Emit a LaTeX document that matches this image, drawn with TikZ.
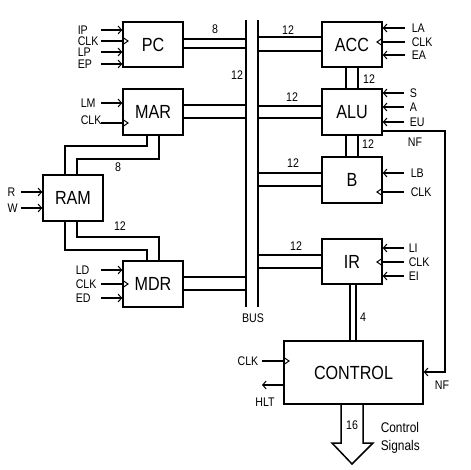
\documentclass[tikz,border=0pt]{standalone}
\usepackage{fontspec}
\setmainfont[FakeStretch=0.85]{Liberation Sans}
\usetikzlibrary{arrows.meta,calc}
\begin{document}
\begin{tikzpicture}[x=1pt,y=-1pt,
  line width=1.5pt,
  blk/.style={draw, line width=1.6pt, minimum width=60pt, minimum height=45pt, inner sep=0pt, font=\fontsize{19}{19}\selectfont},
  lbl/.style={inner sep=0pt, font=\fontsize{12.5}{12.5}\selectfont},
  inarr/.style={-{Straight Barb[length=3.5pt,width=8pt,line width=1pt]}, line width=1.5pt},
  wire/.style={line width=1.5pt},
  clk/.style={line width=1pt},
]
\useasboundingbox (0,0) rectangle (471,470);

% blocks
\node[blk] (pc)  at (153,44.5) {PC};
\node[blk, minimum height=46pt] (mar) at (153,112) {MAR};
\node[blk, minimum height=46pt] (ram) at (73,198) {RAM};
\node[blk, minimum height=46pt] (mdr) at (153,284) {MDR};
\node[blk] (acc) at (352,44.5) {ACC};
\node[blk, minimum height=46pt] (alu) at (352,112) {ALU};
\node[blk, minimum height=46pt] (b)   at (352,180) {B};
\node[blk] (ir)  at (352,261.5) {IR};
\node[blk, minimum width=139pt, minimum height=63pt] (ctl) at (353.5,372.5) {CONTROL};

% bus
\coordinate (bl1) at (246,20); \coordinate (bl2) at (246,307);
\coordinate (br1) at (258,20); \coordinate (br2) at (258,307);
\draw[wire] (bl1) -- (bl2);
\draw[wire] (br1) -- (br2);
\node[lbl] (buslbl) at (253,318) {BUS};
\node[lbl] (n12bus) at (237,75) {12};

% left side to bus
\draw[wire] (pc.east |- 0,39) -- (bl1 |- 0,39);
\draw[wire] (pc.east |- 0,48) -- (bl1 |- 0,48);
\node[lbl] (n8pc) at (215,29) {8};
\draw[wire] (mar.east |- 0,105) -- (bl1 |- 0,105);
\draw[wire] (mar.east |- 0,118) -- (bl1 |- 0,118);
\draw[wire] (mdr.east |- 0,277) -- (bl1 |- 0,277);
\draw[wire] (mdr.east |- 0,290) -- (bl1 |- 0,290);

% right side to bus
\draw[wire] (br1 |- 0,37) -- (acc.west |- 0,37);
\draw[wire] (br1 |- 0,51) -- (acc.west |- 0,51);
\node[lbl] (n12acc) at (288,30) {12};
\draw[wire] (br1 |- 0,106) -- (alu.west |- 0,106);
\draw[wire] (br1 |- 0,118) -- (alu.west |- 0,118);
\node[lbl] (n12alu) at (292,97) {12};
\draw[wire] (br1 |- 0,173) -- (b.west |- 0,173);
\draw[wire] (br1 |- 0,186) -- (b.west |- 0,186);
\node[lbl] (n12b) at (293,163) {12};
\draw[wire] (br1 |- 0,255) -- (ir.west |- 0,255);
\draw[wire] (br1 |- 0,268) -- (ir.west |- 0,268);
\node[lbl] (n12ir) at (296,246) {12};

% vertical links
\draw[wire] (acc.south -| 346,0) -- (alu.north -| 346,0);
\draw[wire] (acc.south -| 358,0) -- (alu.north -| 358,0);
\node[lbl] (n12aa) at (369,79) {12};
\draw[wire] (alu.south -| 346,0) -- (b.north -| 346,0);
\draw[wire] (alu.south -| 358,0) -- (b.north -| 358,0);
\node[lbl] (n12ab) at (368,144) {12};
\draw[wire] (ir.south -| 350,0) -- (ctl.north -| 350,0);
\draw[wire] (ir.south -| 356,0) -- (ctl.north -| 356,0);
\node[lbl] (n4) at (363,317) {4};

% MAR/RAM/MDR
\draw[wire] (mar.south -| 147,0) |- (65,146) -- (ram.north -| 65,0);
\draw[wire] (mar.south -| 159,0) |- (77,159) -- (ram.north -| 77,0);
\node[lbl] (n8ram) at (118,167) {8};
\draw[wire] (ram.south -| 65,0) |- (147,250) -- (mdr.north -| 147,0);
\draw[wire] (ram.south -| 77,0) |- (159,237) -- (mdr.north -| 159,0);
\node[lbl] (n12ram) at (120,226) {12};

% NF
\draw[inarr] (alu.east |- 0,131) -| (445,372) -- (ctl.east |- 0,372);
\node[lbl] (nf1) at (415,142) {NF};
\node[lbl] (nf2) at (442,385) {NF};

% PC inputs
\node[lbl, anchor=west] (ip) at (77,30) {IP};
\node[lbl, anchor=west] (pcclk) at (77,41) {CLK};
\node[lbl, anchor=west] (lp) at (77,52) {LP};
\node[lbl, anchor=west] (ep) at (77,64) {EP};
\draw[inarr] (ip.west -| 101,0) -- (ip.west -| pc.west);
\draw[wire] (pcclk.west -| 101,0) -- (pcclk.west -| pc.west);
\draw[inarr] (lp.west -| 101,0) -- (lp.west -| pc.west);
\draw[inarr] (ep.west -| 101,0) -- (ep.west -| pc.west);
\draw[clk] (pc.west |- 0,37) -- (128,41) -- (pc.west |- 0,45);

% MAR inputs
\node[lbl, anchor=west] (lm) at (80,103) {LM};
\node[lbl, anchor=west] (marclk) at (80,120) {CLK};
\draw[inarr] (lm.west -| 101,0) -- (lm.west -| mar.west);
\draw[wire] (101,123) -- (mar.west |- 0,123);
\draw[clk] (mar.west |- 0,119) -- (128,123) -- (mar.west |- 0,127);

% RAM inputs
\node[lbl, anchor=west] (r) at (7,192) {R};
\node[lbl, anchor=west] (w) at (7,208) {W};
\draw[inarr] (r.west -| 21,0) -- (r.west -| ram.west);
\draw[inarr] (w.west -| 21,0) -- (w.west -| ram.west);

% MDR inputs
\node[lbl, anchor=west] (ld) at (75,270) {LD};
\node[lbl, anchor=west] (mdrclk) at (75,284) {CLK};
\node[lbl, anchor=west] (ed) at (75,298) {ED};
\draw[inarr] (ld.west -| 101,0) -- (ld.west -| mdr.west);
\draw[wire] (mdrclk.west -| 101,0) -- (mdrclk.west -| mdr.west);
\draw[inarr] (ed.west -| 101,0) -- (ed.west -| mdr.west);
\draw[clk] (mdr.west |- 0,280) -- (128,284) -- (mdr.west |- 0,288);

% ACC inputs
\node[lbl, anchor=west] (la) at (411,28) {LA};
\node[lbl, anchor=west] (accclk) at (411,42) {CLK};
\node[lbl, anchor=west] (ea) at (411,55) {EA};
\draw[inarr] (la.west -| 405,0) -- (la.west -| acc.east);
\draw[wire] (accclk.west -| 405,0) -- (accclk.west -| acc.east);
\draw[inarr] (ea.west -| 405,0) -- (ea.west -| acc.east);
\draw[clk] (acc.east |- 0,38) -- (377,42) -- (acc.east |- 0,46);

% ALU inputs
\node[lbl, anchor=west] (s) at (409,93) {S};
\node[lbl, anchor=west] (a) at (409,107) {A};
\node[lbl, anchor=west] (eu) at (409,122) {EU};
\draw[inarr] (s.west -| 404,0) -- (s.west -| alu.east);
\draw[inarr] (a.west -| 404,0) -- (a.west -| alu.east);
\draw[inarr] (eu.west -| 404,0) -- (eu.west -| alu.east);

% B inputs
\node[lbl, anchor=west] (lb) at (410,173) {LB};
\node[lbl, anchor=west] (bclk) at (410,192) {CLK};
\draw[inarr] (lb.west -| 404,0) -- (lb.west -| b.east);
\draw[wire] (bclk.west -| 404,0) -- (bclk.west -| b.east);
\draw[clk] (b.east |- 0,188) -- (377,192) -- (b.east |- 0,196);

% IR inputs
\node[lbl, anchor=west] (li) at (408,248) {LI};
\node[lbl, anchor=west] (irclk) at (408,262) {CLK};
\node[lbl, anchor=west] (ei) at (408,276) {EI};
\draw[inarr] (li.west -| 404,0) -- (li.west -| ir.east);
\draw[wire] (irclk.west -| 404,0) -- (irclk.west -| ir.east);
\draw[inarr] (ei.west -| 404,0) -- (ei.west -| ir.east);
\draw[clk] (ir.east |- 0,258) -- (377,262) -- (ir.east |- 0,266);

% CONTROL inputs/outputs
\node[lbl, anchor=east] (cclk) at (259,361) {CLK};
\draw[wire] (cclk.east -| 262,0) -- (cclk.east -| ctl.west);
\draw[clk] (ctl.west |- 0,357) -- (289,361) -- (ctl.west |- 0,365);
\node[lbl] (hlt) at (265,402) {HLT};
\draw[inarr] (ctl.west |- 0,385) -- (262,385);

% control signals arrow
\draw[wire, line join=miter] (ctl.south -| 341,0) -- (341,443) -- (332,443) -- (352,464) -- (373,443) -- (363,443) -- (ctl.south -| 363,0);
\node[lbl] (n16) at (352,425) {16};
\node[inner sep=0pt, anchor=west, align=left, font=\fontsize{14}{18}\selectfont] (cs) at (380,438) {Control\\Signals};
\end{tikzpicture}
\end{document}
